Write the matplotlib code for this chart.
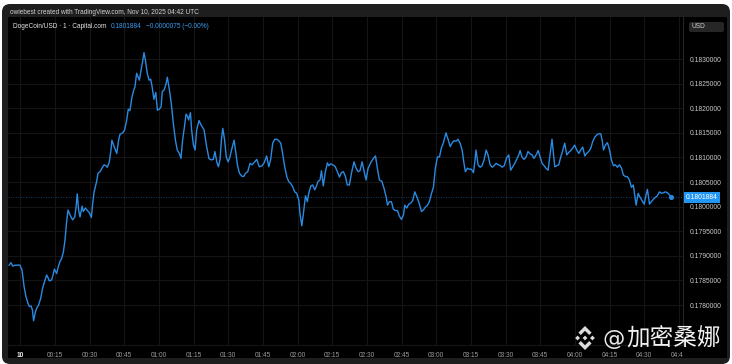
import matplotlib
matplotlib.use("Agg")
import matplotlib.pyplot as plt
from matplotlib.patches import FancyBboxPatch, Rectangle, Polygon
from matplotlib.transforms import IdentityTransform, Bbox, blended_transform_factory

# minutes after 00:00 (Nov 10) and DOGE price
minutes = [
    -4.9, -4.1, -3.3, -2.3, -0.2, 0.7, 1.6, 2.4, 3.3, 3.9,
    4.6, 5.2, 5.7, 6.5, 7.0, 7.9, 8.8, 9.6, 10.4, 11.4,
    12.1, 12.5, 13.5, 14.3, 14.7, 15.7, 16.4, 17.1, 17.9, 18.6,
    19.3, 20.0, 20.6, 21.5, 22.6, 23.5, 24.1, 24.6, 25.2, 25.8,
    26.7, 27.2, 28.1, 29.0, 29.8, 30.7, 31.3, 31.9, 33.0, 33.6,
    34.5, 35.3, 36.2, 37.0, 37.6, 38.5, 39.2, 39.6, 40.5, 41.7,
    42.5, 43.1, 44.3, 45.1, 46.0, 46.7, 47.4, 48.3, 48.9, 49.6,
    50.3, 50.9, 51.5, 52.1, 52.9, 53.5, 54.1, 54.9, 55.7, 56.4,
    57.0, 57.8, 58.6, 59.3, 60.1, 60.9, 61.4, 62.2, 62.9, 63.6,
    64.5, 65.3, 66.2, 67.1, 67.9, 68.8, 69.5, 70.2, 71.0, 71.7,
    72.4, 72.8, 73.6, 74.1, 74.9, 75.6, 76.3, 77.3, 78.2, 79.5,
    80.6, 81.6, 82.5, 83.5, 84.2, 85.0, 85.7, 86.4, 87.0, 87.6,
    88.4, 89.1, 89.9, 90.7, 91.6, 92.5, 93.3, 94.0, 94.8, 95.8,
    96.6, 97.5, 98.4, 99.4, 100.3, 101.1, 102.3, 103.4, 104.6, 105.5,
    106.6, 107.5, 108.3, 109.2, 110.1, 110.9, 111.8, 112.7, 113.5, 114.4,
    115.3, 116.1, 117.0, 117.9, 118.7, 119.6, 120.5, 121.0, 121.8, 122.5,
    123.4, 124.2, 124.8, 125.7, 126.5, 127.4, 128.0, 128.8, 129.7, 130.3,
    131.1, 132.0, 132.9, 133.5, 134.3, 135.2, 136.3, 137.2, 138.1, 138.9,
    139.8, 140.7, 141.5, 142.4, 143.3, 144.4, 145.3, 146.2, 147.0, 147.9,
    148.8, 149.6, 150.5, 151.6, 152.8, 153.7, 154.5, 155.4, 156.5, 157.4,
    158.3, 158.9, 159.7, 160.6, 161.4, 162.3, 163.2, 164.0, 164.9, 165.8,
    166.4, 167.2, 168.1, 168.9, 169.8, 170.7, 171.6, 172.4, 173.6, 174.4,
    175.3, 176.2, 177.0, 177.9, 178.8, 179.6, 180.5, 181.4, 182.2, 183.1,
    184.2, 185.1, 186.0, 186.8, 187.7, 188.6, 189.4, 190.3, 191.2, 192.0,
    192.6, 193.5, 194.4, 195.2, 196.1, 196.7, 197.2, 198.1, 199.0, 199.8,
    200.7, 201.6, 202.4, 203.3, 204.2, 205.0, 205.9, 206.8, 207.6, 208.5,
    209.4, 210.5, 211.4, 212.2, 213.1, 214.0, 214.8, 215.7, 216.3, 217.1,
    218.0, 218.9, 219.7, 220.6, 221.5, 222.3, 223.2, 224.1, 225.0, 225.8,
    226.7, 227.5, 228.4, 229.3, 230.1, 230.7, 231.3, 232.2, 233.0, 233.9,
    234.8, 235.6, 236.5, 237.3, 238.2, 239.1, 239.9, 240.8, 241.7, 242.5,
    243.4, 244.3, 245.1, 246.0, 246.9, 247.7, 248.6, 249.5, 250.3, 251.2,
    251.8, 252.4, 253.2, 254.1, 255.0, 255.8, 256.7, 257.5, 258.4, 259.3,
    260.2, 261.0, 261.9, 262.7, 263.6, 264.5, 265.3, 265.9, 266.5, 267.4,
    268.2, 269.1, 270.0, 270.8, 271.4, 272.3, 273.1, 274.0, 274.9, 275.7,
    276.6, 277.5, 278.3, 279.2, 280.1, 280.9, 281.8,
]
price = [
    0.17881, 0.17886, 0.17879, 0.17881, 0.17881, 0.17871, 0.17837, 0.17817, 0.17803, 0.17797,
    0.17798, 0.17790, 0.17768, 0.17786, 0.17793, 0.17800, 0.17814, 0.17834, 0.17847, 0.17861,
    0.17854, 0.17849, 0.17851, 0.17864, 0.17873, 0.17864, 0.17878, 0.17888, 0.17895, 0.17908,
    0.17932, 0.17969, 0.17993, 0.17983, 0.17973, 0.17979, 0.17999, 0.18026, 0.17993, 0.17979,
    0.18001, 0.17990, 0.17997, 0.17992, 0.17988, 0.17978, 0.18007, 0.18030, 0.18051, 0.18068,
    0.18071, 0.18078, 0.18085, 0.18083, 0.18080, 0.18091, 0.18115, 0.18135, 0.18123, 0.18108,
    0.18135, 0.18147, 0.18150, 0.18156, 0.18176, 0.18198, 0.18195, 0.18223, 0.18234, 0.18244,
    0.18271, 0.18264, 0.18257, 0.18274, 0.18295, 0.18313, 0.18298, 0.18271, 0.18257, 0.18259,
    0.18244, 0.18218, 0.18232, 0.18196, 0.18198, 0.18203, 0.18234, 0.18237, 0.18247, 0.18263,
    0.18237, 0.18210, 0.18169, 0.18135, 0.18115, 0.18108, 0.18098, 0.18135, 0.18162, 0.18188,
    0.18183, 0.18176, 0.18191, 0.18156, 0.18125, 0.18115, 0.18156, 0.18175, 0.18166, 0.18156,
    0.18122, 0.18098, 0.18095, 0.18096, 0.18112, 0.18091, 0.18081, 0.18095, 0.18135, 0.18159,
    0.18135, 0.18101, 0.18091, 0.18101, 0.18119, 0.18135, 0.18108, 0.18083, 0.18068, 0.18062,
    0.18061, 0.18068, 0.18071, 0.18088, 0.18085, 0.18089, 0.18096, 0.18081, 0.18083, 0.18089,
    0.18103, 0.18081, 0.18095, 0.18129, 0.18137, 0.18137, 0.18134, 0.18129, 0.18108, 0.18081,
    0.18061, 0.18051, 0.18047, 0.18040, 0.18030, 0.18027, 0.18013, 0.17986, 0.17961, 0.17986,
    0.18022, 0.18010, 0.18027, 0.18042, 0.18044, 0.18034, 0.18040, 0.18051, 0.18054, 0.18073,
    0.18042, 0.18071, 0.18089, 0.18083, 0.18087, 0.18085, 0.18081, 0.18071, 0.18060, 0.18069,
    0.18071, 0.18061, 0.18044, 0.18044, 0.18068, 0.18091, 0.18078, 0.18071, 0.18073, 0.18091,
    0.18071, 0.18054, 0.18078, 0.18089, 0.18098, 0.18103, 0.18078, 0.18054, 0.18051, 0.18037,
    0.18020, 0.18003, 0.18010, 0.18010, 0.17995, 0.17992, 0.17992, 0.17981, 0.17974, 0.17983,
    0.18003, 0.17997, 0.18005, 0.18007, 0.18012, 0.18030, 0.18020, 0.18010, 0.17990, 0.17993,
    0.17999, 0.18003, 0.18010, 0.18026, 0.18040, 0.18078, 0.18101, 0.18101, 0.18119, 0.18130,
    0.18150, 0.18137, 0.18122, 0.18129, 0.18134, 0.18133, 0.18137, 0.18129, 0.18115, 0.18088,
    0.18071, 0.18078, 0.18076, 0.18076, 0.18069, 0.18091, 0.18115, 0.18085, 0.18080, 0.18083,
    0.18095, 0.18115, 0.18105, 0.18085, 0.18080, 0.18083, 0.18088, 0.18085, 0.18084, 0.18080,
    0.18083, 0.18100, 0.18105, 0.18074, 0.18081, 0.18088, 0.18096, 0.18105, 0.18114, 0.18101,
    0.18096, 0.18101, 0.18112, 0.18107, 0.18105, 0.18098, 0.18105, 0.18114, 0.18100, 0.18088,
    0.18083, 0.18078, 0.18074, 0.18108, 0.18137, 0.18108, 0.18081, 0.18083, 0.18085, 0.18101,
    0.18115, 0.18129, 0.18105, 0.18110, 0.18114, 0.18119, 0.18125, 0.18115, 0.18108, 0.18115,
    0.18121, 0.18103, 0.18108, 0.18112, 0.18119, 0.18132, 0.18141, 0.18146, 0.18148, 0.18148,
    0.18135, 0.18115, 0.18125, 0.18130, 0.18115, 0.18095, 0.18083, 0.18085, 0.18080, 0.18085,
    0.18078, 0.18064, 0.18061, 0.18061, 0.18054, 0.18039, 0.18044, 0.18024, 0.18003, 0.18027,
    0.18019, 0.18012, 0.18005, 0.18024, 0.18035, 0.18005, 0.18010, 0.18015, 0.18019, 0.18022,
    0.18030, 0.18027, 0.18028, 0.18030, 0.18028, 0.18024, 0.18019,
]

last_price = 0.1801884
change_text = "\u22120.0000075 (\u22120.00%)"
time_ticks = list(range(0, 286, 15))
time_labels = ["10", "00:15", "00:30", "00:45", "01:00", "01:15", "01:30", "01:45",
               "02:00", "02:15", "02:30", "02:45", "03:00", "03:15", "03:30", "03:45",
               "04:00", "04:15", "04:30", "04:45"]
price_ticks = [0.1780, 0.1785, 0.1790, 0.1795, 0.1800, 0.1805,
               0.1810, 0.1815, 0.1820, 0.1825, 0.1830]

W, H = 732, 364
BLUE = "#2a8ae2"
UI_FONT = "Liberation Sans"
FS = 4.7


def fx(x):
    return x / W


def fy(y):
    return 1 - y / H


fig = plt.figure(figsize=(W / 100, H / 100), dpi=100, facecolor="white")
pix = IdentityTransform()

# dark rounded card + black chart area (behind the axes)
fig.patches.append(FancyBboxPatch((2, 0), 728, 360, boxstyle="round,pad=0,rounding_size=8",
                                  fc="#1e1e1e", ec="none", transform=pix, zorder=-10))
fig.patches.append(Rectangle((8, H - 358), 719, 341, fc="black", ec="none",
                             transform=pix, zorder=-9))

ax = fig.add_axes([fx(8), fy(345), (683 - 8) / W, (345 - 17) / H])
ax.set_facecolor("black")
ax.plot(minutes, price, color=BLUE, lw=1.0, solid_joinstyle="round", zorder=3)
ax.plot(minutes[-1], price[-1], "o", color=BLUE, ms=2.6, zorder=4)
ax.axhline(last_price, color=BLUE, lw=0.6, ls=(0, (1, 2)), alpha=0.6, zorder=2)

ax.set_xlim(-5.37, 286.8)
ax.set_ylim(0.177187, 0.183854)
ax.set_xticks(time_ticks)
ax.set_xticklabels(time_labels)
ax.set_yticks(price_ticks)
ax.set_yticklabels(["%.7f" % p for p in price_ticks])
ax.yaxis.tick_right()
ax.grid(True, color="#141414", lw=0.8)
ax.set_axisbelow(True)
ax.tick_params(axis="x", length=0, pad=5, labelsize=FS, labelcolor="#9c9c9c")
ax.tick_params(axis="y", length=0, pad=5, labelsize=FS + 0.2, labelcolor="#c8c8c8")
for lab in ax.get_xticklabels() + ax.get_yticklabels():
    lab.set_fontfamily(UI_FONT)
ax.get_xticklabels()[0].set_color("#e8e8e8")
ax.get_xticklabels()[0].set_fontweight("bold")
# the last time label runs under the price scale and is cut there
ax.get_xticklabels()[-1].set_clip_box(Bbox.from_extents(8, 0, 683, H))
ax.get_xticklabels()[-1].set_clip_on(True)
for side in ["top", "left"]:
    ax.spines[side].set_visible(False)
ax.spines["right"].set_color("#262626")
ax.spines["bottom"].set_color("#161616")

# last price tag on the price scale
tr = blended_transform_factory(ax.transAxes, ax.transData)
ax.text(1.004, last_price, "%.7f" % last_price, transform=tr, ha="left", va="center",
        fontsize=FS + 0.2, family=UI_FONT, color="white", clip_on=False, zorder=6,
        bbox=dict(boxstyle="square,pad=0.3", fc="#2196f3", ec="none"))

# USD box
fig.patches.append(FancyBboxPatch((689, H - 32), 35, 10, boxstyle="round,pad=0,rounding_size=2",
                                  fc="#262626", ec="none", transform=pix))
fig.text(fx(692), fy(27), "USD", color="#d0d0d0", fontsize=FS, family=UI_FONT, va="center")

# header lines
fig.text(fx(10), fy(12.5), "owiebest created with TradingView.com, Nov 10, 2025 04:42 UTC",
         color="#d2d2d2", fontsize=FS, family=UI_FONT, va="center")
fig.text(fx(13), fy(27), "DogeCoin/USD \u00b7 1 \u00b7 Capital.com", color="#e6e6e6",
         fontsize=FS, family=UI_FONT, va="center")
fig.text(fx(110.5), fy(27), "%.7f" % last_price, color="#3a9cf0", fontsize=FS,
         family=UI_FONT, va="center")
fig.text(fx(145.5), fy(27), change_text, color="#3a9cf0", fontsize=FS,
         family=UI_FONT, va="center")

# watermark: binance-style logo + handle
cx, cy, s = 585, H - 338, 12
logo = [
    [(0, 0.2), (0.2, 0), (0, -0.2), (-0.2, 0)],
    [(-0.62, 0.2), (-0.42, 0), (-0.62, -0.2), (-0.82, 0)],
    [(0.62, 0.2), (0.82, 0), (0.62, -0.2), (0.42, 0)],
    [(0, 1), (0.55, 0.45), (0.35, 0.25), (0, 0.6), (-0.35, 0.25), (-0.55, 0.45)],
    [(0, -1), (0.55, -0.45), (0.35, -0.25), (0, -0.6), (-0.35, -0.25), (-0.55, -0.45)],
]
for poly in logo:
    pts = [(cx + s * a, cy + s * b) for a, b in poly]
    fig.patches.append(Polygon(pts, closed=True, fc="#dcdcdc", ec="none", transform=pix))
fig.text(fx(603), fy(339), "@", color="#e8e8e8", fontsize=16,
         family=["DejaVu Sans"], va="center")
fig.text(fx(626), fy(339), "加密桑娜", color="#f2f2f2", fontsize=17,
         family=["Noto Sans CJK SC", "DejaVu Sans"], va="center")

fig.savefig("out.png", dpi=100, facecolor="white")
